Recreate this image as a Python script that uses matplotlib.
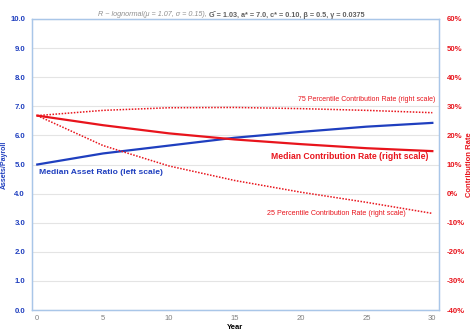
import matplotlib
matplotlib.use("Agg")
import matplotlib.pyplot as plt
from matplotlib.ticker import FuncFormatter

plt.rcParams['font.family'] = ['Liberation Sans', 'DejaVu Sans']

# data
years = [0, 5, 10, 15, 20, 25, 30]
asset_ratio = [5.0, 5.38, 5.65, 5.92, 6.12, 6.30, 6.43]
contrib_median = [26.8, 23.5, 20.7, 18.6, 17.0, 15.6, 14.6]
contrib_p75 = [26.8, 28.6, 29.5, 29.6, 29.2, 28.6, 27.8]
contrib_p25 = [26.8, 16.5, 9.5, 4.5, 0.5, -3.0, -6.8]

BLUE = "#1f3fbf"
RED = "#e8141c"
SPINE = "#a9c6e8"

fig = plt.figure(figsize=(4.74, 3.33), dpi=100)
ax1 = fig.add_axes([0.0675, 0.069, 0.8585, 0.874])
ax2 = ax1.twinx()

ax1.plot(years, asset_ratio, color=BLUE, lw=1.6)
ax2.plot(years, contrib_median, color=RED, lw=1.6)
ax2.plot(years, contrib_p75, color=RED, lw=1.1, ls=(0, (1, 1)))
ax2.plot(years, contrib_p25, color=RED, lw=1.1, ls=(0, (1, 1)))

ax1.set_xlim(-0.4, 30.5)
ax1.set_ylim(0, 10)
ax2.set_ylim(-40, 60)
ax1.set_yticks(range(0, 11))
ax2.set_yticks(range(-40, 61, 10))
ax1.set_xticks(range(0, 31, 5))
ax1.yaxis.set_major_formatter(FuncFormatter(lambda v, p: f"{v:.1f}"))
ax2.yaxis.set_major_formatter(FuncFormatter(lambda v, p: f"{v:.0f}%"))

ax1.grid(axis='y', color='#e4e4e4', lw=0.8)
ax1.set_axisbelow(True)
for ax in (ax1, ax2):
    for s in ax.spines.values():
        s.set_color(SPINE)
        s.set_linewidth(0.9)
    ax.tick_params(length=0)

ax1.tick_params(axis='y', labelsize=5.6, labelcolor=BLUE, pad=5)
for t in ax1.get_yticklabels():
    t.set_fontweight('bold')
ax2.tick_params(axis='y', labelsize=5.6, labelcolor=RED, pad=5.5)
for t in ax2.get_yticklabels():
    t.set_fontweight('bold')
ax1.tick_params(axis='x', labelsize=5.5, labelcolor='#808080', pad=3.5)

ax1.set_xlabel("Year", fontsize=5.5, fontweight='bold', labelpad=1.5)
ax1.set_ylabel("Assets/Payroll", fontsize=5, fontweight='bold', color=BLUE)
ax2.set_ylabel("Contribution Rate", fontsize=5.5, fontweight='bold', color=RED)
ax1.yaxis.set_label_coords(-0.059, 0.5)
ax2.yaxis.set_label_coords(1.066, 0.5)

# in-chart labels
ax1.text(0.1, 4.72, "Median Asset Ratio (left scale)", color=BLUE, fontsize=6.1,
         fontweight='bold', va='center', ha='left')
ax2.text(29.7, 12.6, "Median Contribution Rate (right scale)", color=RED, fontsize=6.2,
         fontweight='bold', va='center', ha='right')
ax2.text(30.2, 32.3, "75 Percentile Contribution Rate (right scale)", color=RED,
         fontsize=5, va='center', ha='right')
ax2.text(28.0, -7.0, "25 Percentile Contribution Rate (right scale)", color=RED,
         fontsize=5.1, va='center', ha='right')

# title in two parts
fig.text(0.44, 0.956, "R ~ lognormal(\u03bc = 1.07, \u03c3 = 0.15), ", color='#909090',
         fontsize=5.2, style='italic', ha='right', va='center')
fig.text(0.44, 0.956, "G\u0304 = 1.03, a* = 7.0, c* = 0.10, \u03b2 = 0.5, \u03b3 = 0.0375",
         color='#606060', fontsize=5.2, fontweight='bold', ha='left', va='center')

fig.savefig("out.png", dpi=100)
